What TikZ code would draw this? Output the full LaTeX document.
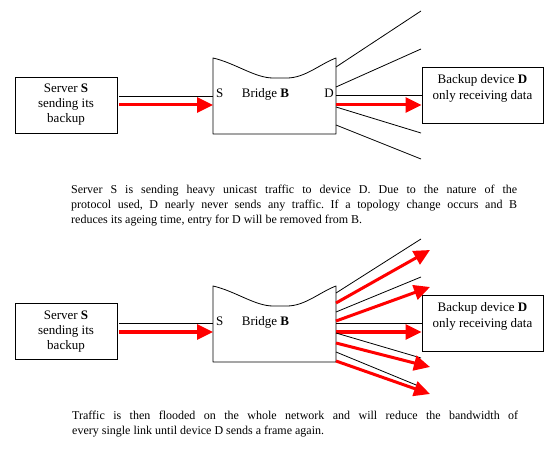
\documentclass[tikz,border=0pt]{standalone}
\usepackage{fontspec}
\setmainfont{Liberation Serif}
\usetikzlibrary{arrows.meta,positioning}
\frenchspacing
\begin{document}
\begin{tikzpicture}[x=1pt,y=-1pt,
    box/.style={draw,line width=0.8pt,minimum width=102pt,minimum height=56pt,align=center,inner sep=0pt,outer xsep=2pt,font=\fontsize{13}{15}\selectfont},
    devbox/.style={draw,line width=0.8pt,minimum width=121pt,minimum height=56pt,inner sep=0pt},
    bridge/.style={minimum width=123pt,minimum height=76pt,inner sep=0pt,outer sep=0pt},
    lbl/.style={inner sep=0pt,align=center,font=\fontsize{13}{15.5}\selectfont},
    wire/.style={line width=0.8pt},
    flow/.style={red,line width=3pt,-{Triangle[length=16pt,width=15pt]}},
    para/.style={inner sep=0pt,text width=446pt,align=justify,font=\fontsize{12}{15}\selectfont}]
\fill[white] (0,0) rectangle (560,465);
\useasboundingbox (0,0) rectangle (560,465);

% before the topology change
\node[box] (srvA) at (66,105) {Server \textbf{S}\\sending its\\backup};
\node[bridge] (brA) at (274.5,96) {};
\draw[wire,line join=round] (brA.south west) -- (brA.north west) .. controls (235,63) and (255,78) .. (273,78) -- (287,78) .. controls (305,78) and (320,64) .. (brA.north east) -- (brA.south east) -- cycle;
\node[lbl,anchor=base west] (brAs) at ([xshift=3pt,yshift=-2pt]brA.west) {S};
\node[lbl,anchor=base] (brAname) at ([xshift=-9pt,yshift=-2pt]brA.center) {Bridge \textbf{B}};
\node[lbl,anchor=base east] (brAd) at ([xshift=-2pt,yshift=-2pt]brA.east) {D};
\node[devbox] (devA) at (482.5,95) {};
\node[lbl,below=8pt of devA.north] (devAtxt) {Backup device \textbf{D}\\only receiving data};

\draw[wire] (srvA.east |- 0,96) -- (brA.west |- 0,96);
\draw[flow] (srvA.east) -- (srvA.east -| brA.west);
\draw[wire] (brA.east |- devA.west) -- (devA.west);
\draw[flow] (brA.east |- 0,105) -- (devA.west |- 0,105);
\foreach \s/\e [count=\i] in {67/11,87/49,107/133,125/159}{
  \coordinate (fanA\i) at (421,\e);
  \draw[wire] (brA.east |- 0,\s) -- (fanA\i);
}

\node[para,anchor=north west] (txtA) at (71,185) {Server S is sending heavy unicast traffic to device D. Due to the nature of the\linebreak protocol used, D nearly never sends any traffic. If a topology change occurs and B\linebreak reduces its ageing time, entry for D will be removed from B.};

% after: D is unknown, traffic is flooded
\node[box] (srvB) at (66,331.5) {Server \textbf{S}\\sending its\\backup};
\node[bridge] (brB) at (274.5,324) {};
\draw[wire,line join=round] (brB.south west) -- (brB.north west) .. controls (235,291) and (255,306) .. (273,306) -- (287,306) .. controls (305,306) and (320,292) .. (brB.north east) -- (brB.south east) -- cycle;
\node[lbl,anchor=base west] (brBs) at ([xshift=3pt,yshift=-2pt]brB.west) {S};
\node[lbl,anchor=base] (brBname) at ([xshift=-9pt,yshift=-2pt]brB.center) {Bridge \textbf{B}};
\node[devbox] (devB) at (482.5,323) {};
\node[lbl,below=8pt of devB.north] (devBtxt) {Backup device \textbf{D}\\only receiving data};

\draw[wire] (srvB.east |- 0,323) -- (brB.west |- 0,323);
\draw[flow] (srvB.east |- 0,332) -- (brB.west |- 0,332);
\draw[wire] (brB.east |- devB.west) -- (devB.west);
\draw[flow] (brB.east |- 0,332) -- (devB.west |- 0,332);
\foreach \s/\e [count=\i] in {293/239,312/277,333/358,352/387}{
  \coordinate (fanB\i) at (421,\e);
  \draw[wire] (brB.east |- 0,\s) -- (fanB\i);
}
\foreach \s/\e [count=\i] in {303/250,321/287,343/367,361/394}{
  \coordinate (floodB\i) at (430,\e);
  \draw[flow] (brB.east |- 0,\s) -- (floodB\i);
}

\node[para,anchor=north west] (txtB) at (72,410.5) {Traffic is then flooded on the whole network and will reduce the bandwidth of\linebreak every single link until device D sends a frame again.};
\end{tikzpicture}
\end{document}
